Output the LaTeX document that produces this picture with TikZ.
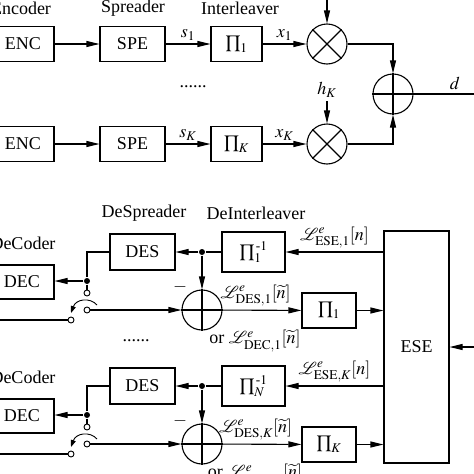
\documentclass[tikz,border=0pt]{standalone}
\usepackage{amsmath}
\usepackage{mathptmx}
\usepackage{mathrsfs}
\usepackage{fontspec}
\setmainfont{Liberation Serif}
\usetikzlibrary{arrows.meta}

\tikzset{
  box/.style={draw, minimum height=35pt, inner sep=0pt},
  ring/.style={draw, circle, minimum size=40pt, inner sep=0pt},
  arr/.style={-{Triangle[length=13pt,width=6pt]}},
  swpin/.style={draw, circle, fill=white, line width=0.9pt, minimum size=6pt, inner sep=0pt},
  jdot/.style={circle, fill=black, minimum size=6pt, inner sep=0pt},
  turn/.style={line width=0.9pt, -{Triangle[length=7pt,width=5pt]}}
}

\begin{document}
\begin{tikzpicture}[x=1pt, y=-1pt, line width=1.1pt,
    every node/.style={font=\fontsize{18}{21}\selectfont}]
    \useasboundingbox (0,0) rectangle (474,474);

    % transmitter
    \node (lenc) at (21,8) {Encoder};
    \node (lspe) at (133,8) {Spreader};
    \node (lint) at (240,8) {Interleaver};

    \foreach \r/\y/\k in {1/44/1, 2/144/K} {
        \node[box, minimum width=62pt] (enc\r) at (23,\y) {ENC};
        \node[box, minimum width=65pt] (spe\r) at (132.5,\y) {SPE};
        \node[box, minimum width=51pt] (pi\r) at (236.5,\y) {$\prod_\k$};
        \node[ring] (mul\r) at (327,\y) {};
        \draw (mul\r.north west) -- (mul\r.south east) (mul\r.north east) -- (mul\r.south west);
        \draw[arr] (enc\r) -- (spe\r);
        \draw[arr] (spe\r) -- node[above] {$s_\k$} (pi\r);
        \draw[arr] (pi\r) -- node[above] {$x_\k$} (mul\r);
    }

    \node (dots1) at (193,87) {......};
    \coordinate (h1) at (327,-5);
    \draw[arr] (h1) -- (mul1);
    \node (hK) at (327,90) {$h_K$};
    \draw[arr] (hK) -- (mul2);

    \node[ring] (sum) at (393,94) {};
    \draw (sum.north) -- (sum.south) (sum.west) -- (sum.east);
    \draw[arr] (mul1) -| (sum);
    \draw[arr] (mul2) -| (sum);
    \coordinate (out) at (480,94);
    \draw (sum) -- node[above, pos=0.62] {$d$} (out);

    % receiver
    \node (lds) at (144,213) {DeSpreader};
    \node (ldi) at (256,213) {DeInterleaver};
    \node (dots2) at (136,341) {......};

    \node[box, minimum width=65pt, minimum height=232pt] (ese) at (416.5,347) {ESE};
    \coordinate (rx) at (480,347);
    \draw[arr] (rx) -- (ese);

    \foreach \r/\o/\k/\n in {1/0/1/1, 2/134/K/N} {
        \node (ldec\r) at (23,243+\o) {DeCoder};
        \node[box, minimum width=64pt, minimum height=34pt] (dec\r) at (22,282+\o) {DEC};
        \node[box, minimum width=65pt, minimum height=36pt] (des\r) at (142.5,252+\o) {DES};
        \node[box, minimum width=63pt, minimum height=40pt] (pinv\r) at (253.5,252+\o) {$\prod_\n^{\,\text{-}1}$};
        \node[box, minimum width=54pt] (pib\r) at (329,310.5+\o) {$\prod_\k$};
        \node[ring] (add\r) at (202,310+\o) {};
        \draw (add\r.north) -- (add\r.south) (add\r.west) -- (add\r.east);
        \node (neg\r) at (180,287+\o) {$-$};

        \node[jdot] (tap\r) at (202,252+\o) {};
        \node[jdot] (jn\r) at (87,281+\o) {};
        \node[swpin] (sa\r) at (87,293+\o) {};
        \node[swpin] (sb\r) at (87,310+\o) {};
        \node[swpin] (sc\r) at (71,320+\o) {};
        \coordinate (in\r) at (-5,320+\o);

        \draw[arr] (pinv\r.east -| ese.west) -- node[above] {$\mathscr{L}^{e}_{\mathrm{ESE},\k}[n]$} (pinv\r);
        \draw (pinv\r) -- (tap\r);
        \draw[arr] (tap\r) -- (des\r);
        \draw[arr] (tap\r) -- (add\r);
        \draw (des\r) -| (jn\r);
        \draw[arr] (jn\r) -- (dec\r.east |- jn\r);
        \draw (jn\r) -- (sa\r);
        \draw (sc\r) -- (in\r);
        \draw[turn] (97,305+\o) .. controls (90,297+\o) and (76,299+\o) .. (71,313+\o);
        \draw[arr] (sb\r) -- (add\r);
        \draw[arr] (add\r) -- node[above, pos=0.42] {$\mathscr{L}^{e}_{\mathrm{DES},\k}[\widetilde{n}]$} (pib\r);
        \node (or\r) at (255,341+\o) {or $\mathscr{L}^{e}_{\mathrm{DEC},\k}[\widetilde{n}]$};
        \draw[arr] (pib\r) -- (pib\r.east -| ese.west);
    }
\end{tikzpicture}
\end{document}
